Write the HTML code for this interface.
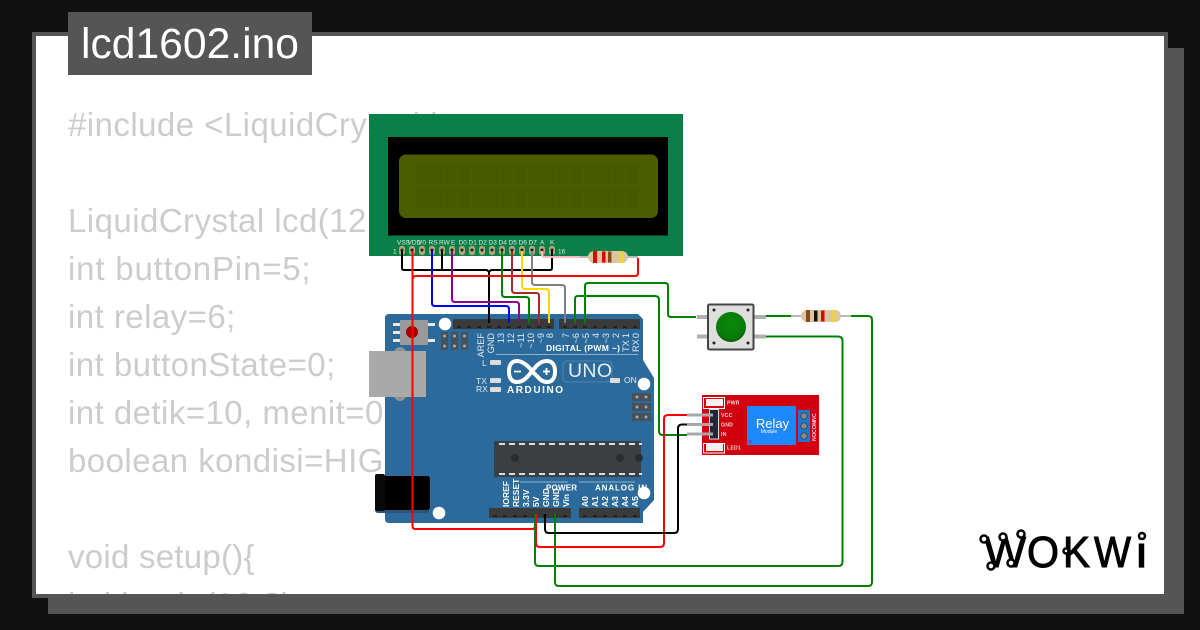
<!DOCTYPE html>
<html><head><meta charset="utf-8"><style>
html,body{margin:0;padding:0;background:#111;width:1200px;height:630px;overflow:hidden}
svg{display:block}
.w{fill:none;stroke-width:2;stroke-linejoin:round}
.c{font:33px "Liberation Sans",sans-serif;fill:#ccc;letter-spacing:.45px}
.b{font:bold 7.5px "Liberation Sans",sans-serif;fill:#fff}
.t{font:8px "Liberation Sans",sans-serif;fill:#dfe8ef}
.r{font:bold 5.2px "Liberation Sans",sans-serif;fill:#f6d6d6;letter-spacing:.2px}
.p{font:6.5px "Liberation Sans",sans-serif;fill:#dfe8df}
</style></head><body>
<svg width="1200" height="630" viewBox="0 0 1200 630" xmlns="http://www.w3.org/2000/svg">
<defs>
<clipPath id="card"><rect x="36" y="36" width="1128" height="558"/></clipPath>
<radialGradient id="bt" cx=".5" cy=".4" r=".6"><stop offset="0" stop-color="#0a8a0a"/><stop offset=".8" stop-color="#087a08"/><stop offset="1" stop-color="#055a05"/></radialGradient>
<pattern id="cells" x="416" y="163" width="14" height="200" patternUnits="userSpaceOnUse"><rect width="12.500" height="21.500" fill="#465500"/><rect y="23.500" width="12.500" height="21.500" fill="#465500"/></pattern>
</defs>
<rect width="1200" height="630" fill="#111"/>
<rect x="48" y="48" width="1136" height="566" fill="#555"/>
<rect x="32" y="32" width="1136" height="566" fill="#555"/>
<rect x="36" y="36" width="1128" height="558" fill="#fff"/>
<g clip-path="url(#card)">
<text class="c" x="68" y="136">#include &lt;LiquidCrystal.h&gt;</text>
<text class="c" x="68" y="232">LiquidCrystal lcd(12, 11, 5, 4, 3, 2);</text>
<text class="c" x="68" y="280" textLength="243">int buttonPin=5;</text>
<text class="c" x="68" y="328">int relay=6;</text>
<text class="c" x="68" y="376">int buttonState=0;</text>
<text class="c" x="68" y="424">int detik=10, menit=0;</text>
<text class="c" x="68" y="472">boolean kondisi=HIGH;</text>
<text class="c" x="68" y="568" textLength="187">void setup(){</text>
<text class="c" x="68" y="616">lcd.begin(16,2);</text>
</g>
<rect x="68" y="12" width="244" height="63" fill="#555"/>
<text x="81" y="58" font-family="Liberation Sans" font-size="43" fill="#fff" textLength="218" lengthAdjust="spacingAndGlyphs">lcd1602.ino</text>

<!-- Arduino -->
<path d="M389 314H638L643 319V360L654 378V500L643 512V523H389Q385 523 385 519V318Q385 314 389 314Z" fill="#2b6a9b"/>
<rect x="375" y="477" width="54" height="36" rx="3" fill="#2a5677"/>
<circle cx="400" cy="353" r="6" fill="#909090"/><circle cx="400" cy="395" r="6" fill="#909090"/>
<rect x="369" y="351" width="57" height="46" fill="#a9a9a9"/>
<rect x="379" y="476" width="51" height="34" rx="3" fill="#000"/>
<rect x="375" y="474" width="10" height="37" rx="2" fill="#0a0a0a"/>
<rect x="393" y="323" width="8" height="3" fill="#e8e8e8"/><rect x="393" y="331" width="8" height="3" fill="#e8e8e8"/><rect x="393" y="339" width="8" height="3" fill="#e8e8e8"/>
<rect x="428" y="323" width="7" height="3" fill="#e8e8e8"/><rect x="428" y="339" width="7" height="3" fill="#e8e8e8"/>
<rect x="400" y="320" width="28" height="25" fill="#9a9a9a"/>
<circle cx="412" cy="332" r="6" fill="#a80000"/>
<circle cx="445" cy="324" r="6.300" fill="#fff"/><circle cx="644" cy="384" r="6.300" fill="#fff"/><circle cx="644" cy="493" r="6.300" fill="#fff"/><circle cx="439" cy="513" r="6.300" fill="#fff"/>
<g fill="#45525c">
<rect x="441" y="332" width="7" height="18"/><rect x="451" y="332" width="7" height="18"/><rect x="461" y="332" width="7" height="18"/>
<rect x="632" y="393" width="19" height="8"/><rect x="632" y="403" width="19" height="8"/><rect x="632" y="413" width="19" height="8"/>
</g>
<g fill="#a8a8a8">
<circle cx="444.500" cy="336" r="1.500"/><circle cx="454.500" cy="336" r="1.500"/><circle cx="464.500" cy="336" r="1.500"/>
<circle cx="444.500" cy="346" r="1.500"/><circle cx="454.500" cy="346" r="1.500"/><circle cx="464.500" cy="346" r="1.500"/>
<circle cx="637" cy="397" r="1.500"/><circle cx="646" cy="397" r="1.500"/><circle cx="637" cy="407" r="1.500"/><circle cx="646" cy="407" r="1.500"/><circle cx="637" cy="417" r="1.500"/><circle cx="646" cy="417" r="1.500"/>
</g>
<g fill="#3a3a3a">
<rect x="453" y="319" width="101" height="10"/><rect x="559" y="319" width="81" height="10"/>
<rect x="489" y="508" width="82" height="10"/><rect x="579" y="508" width="61" height="10"/>
</g>
<path d="M457 327h4M467 327h4M477 327h4M487 327h4M497 327h4M507 327h4M517 327h4M527 327h4M537 327h4M547 327h4M563 327h4M573 327h4M583 327h4M593 327h4M603 327h4M613 327h4M623 327h4M633 327h4M493 516h4M503 516h4M513 516h4M523 516h4M533 516h4M543 516h4M553 516h4M563 516h4M583 516h4M593 516h4M603 516h4M613 516h4M623 516h4M633 516h4" stroke="#222" stroke-width="2"/>
<!-- chip -->
<rect x="494" y="441" width="147" height="36" rx="1" fill="#3c3f41"/>
<path d="M499 444H642M499 474H642" stroke="#ddd" stroke-width="2" stroke-dasharray="6 4"/>
<circle cx="515" cy="458" r="4" fill="#2a2c2e"/><circle cx="620" cy="458" r="4" fill="#2a2c2e"/><circle cx="639" cy="458" r="4" fill="#2a2c2e"/>
<!-- top labels -->
<g font-family="Liberation Sans" fill="#dfe8ef" text-anchor="end" font-size="9.200">
<text transform="translate(484 333) rotate(-90)" text-anchor="end">AREF</text>
<text transform="translate(494 333) rotate(-90)">GND</text>
<text transform="translate(504 333) rotate(-90)">13</text>
<text transform="translate(514 333) rotate(-90)">12</text>
<text transform="translate(524 333) rotate(-90)">~11</text>
<text transform="translate(534 333) rotate(-90)">~10</text>
<text transform="translate(544 333) rotate(-90)">~9</text>
<text transform="translate(553 333) rotate(-90)">8</text>
<text transform="translate(569 333) rotate(-90)">7</text>
<text transform="translate(579 333) rotate(-90)">~6</text>
<text transform="translate(589 333) rotate(-90)">~5</text>
<text transform="translate(599 333) rotate(-90)">4</text>
<text transform="translate(609 333) rotate(-90)">~3</text>
<text transform="translate(619 333) rotate(-90)">2</text>
<text transform="translate(629 333) rotate(-90)">1</text>
<text transform="translate(639 333) rotate(-90)">0</text>
<text transform="translate(629 352) rotate(-90)" text-anchor="start">TX</text>
<text transform="translate(639 352) rotate(-90)" text-anchor="start">RX</text>
</g>
<text class="b" x="546" y="351" style="font-size:8.500px" textLength="74">DIGITAL (PWM ~)</text>
<path d="M496 354.500H638" stroke="#8fb2cc" stroke-width="1"/>
<!-- logo -->
<g fill="none" stroke="#fff" stroke-width="4">
<path d="M532 371C526 363 520 361 517 361C511 361 509 366 509 371.500C509 377 511 382 517 382C524 382 528 376 532 371.500C536 366 540 361 547 361C553 361 555 366 555 371.500C555 377 553 382 547 382C540 382 538 376 532 371.500Z"/>
</g>
<path d="M514 371.500h7M543 371.500h7M546.500 368v7" stroke="#fff" stroke-width="1.800"/>
<text class="b" x="507" y="393" style="font-size:10px" textLength="56">ARDUINO</text>
<rect x="563" y="361" width="49" height="21" rx="4" fill="none" stroke="#5a8db5" stroke-width=".8"/>
<text x="568" y="377" font-family="Liberation Sans" font-size="19.500" fill="#e6eef4" textLength="44">UNO</text>
<g fill="#dcdcdc"><rect x="490" y="360" width="11" height="5" rx="1"/><rect x="490" y="378" width="11" height="5" rx="1"/><rect x="490" y="387" width="11" height="5" rx="1"/><rect x="610" y="378" width="10" height="5" rx="1"/></g>
<g font-family="Liberation Sans" fill="#dfe8ef" font-size="8.500">
<text x="482" y="366">L</text><text x="476" y="384">TX</text><text x="476" y="392">RX</text><text x="624" y="383">ON</text>
</g>
<!-- bottom labels -->
<g class="b" style="font-size:8.500px">
<text transform="translate(509 507) rotate(-90)">IOREF</text>
<text transform="translate(519 507) rotate(-90)">RESET</text>
<text transform="translate(529 507) rotate(-90)">3.3V</text>
<text transform="translate(539 507) rotate(-90)">5V</text>
<text transform="translate(549 507) rotate(-90)">GND</text>
<text transform="translate(559 507) rotate(-90)">GND</text>
<text transform="translate(569 507) rotate(-90)">Vin</text>
<text transform="translate(588 507) rotate(-90)">A0</text>
<text transform="translate(598 507) rotate(-90)">A1</text>
<text transform="translate(608 507) rotate(-90)">A2</text>
<text transform="translate(618 507) rotate(-90)">A3</text>
<text transform="translate(628 507) rotate(-90)">A4</text>
<text transform="translate(638 507) rotate(-90)">A5</text>
</g>
<text class="b" x="546" y="490.500" style="font-size:8px" textLength="31">POWER</text>
<text class="b" x="595" y="490.500" style="font-size:8px" textLength="52">ANALOG IN</text>
<path d="M520 482H568M579 482H635" stroke="#8fb2cc" stroke-width="1"/>

<!-- LCD -->
<rect x="369" y="114" width="314" height="142" fill="#0a7f48"/>
<rect x="388" y="137" width="280" height="98.500" fill="#000"/>
<rect x="399" y="154.500" width="259" height="63.500" rx="7" fill="#4c5d00"/>
<rect x="416" y="163" width="224" height="45" fill="url(#cells)" opacity=".55"/>
<g class="p">
<text x="397" y="244.500">VSS</text><text x="407.500" y="244.500">VDD</text><text x="418" y="244.500">V0</text><text x="428.500" y="244.500">RS</text><text x="439" y="244.500">RW</text><text x="451" y="244.500">E</text><text x="458.500" y="244.500">D0</text><text x="468.500" y="244.500">D1</text><text x="478.500" y="244.500">D2</text><text x="488.500" y="244.500">D3</text><text x="498.500" y="244.500">D4</text><text x="508.500" y="244.500">D5</text><text x="518.500" y="244.500">D6</text><text x="528.500" y="244.500">D7</text><text x="540" y="244.500">A</text><text x="550" y="244.500">K</text>
<text x="393" y="253.500">1</text><text x="558" y="253.500">16</text>
</g>
<g fill="#b7a67c">
<rect x="399" y="246" width="6" height="9" rx="2.500"/><rect x="409" y="246" width="6" height="9" rx="2.500"/><rect x="419" y="246" width="6" height="9" rx="2.500"/><rect x="429" y="246" width="6" height="9" rx="2.500"/><rect x="439" y="246" width="6" height="9" rx="2.500"/><rect x="449" y="246" width="6" height="9" rx="2.500"/><rect x="459" y="246" width="6" height="9" rx="2.500"/><rect x="469" y="246" width="6" height="9" rx="2.500"/><rect x="479" y="246" width="6" height="9" rx="2.500"/><rect x="489" y="246" width="6" height="9" rx="2.500"/><rect x="499" y="246" width="6" height="9" rx="2.500"/><rect x="509" y="246" width="6" height="9" rx="2.500"/><rect x="519" y="246" width="6" height="9" rx="2.500"/><rect x="529" y="246" width="6" height="9" rx="2.500"/><rect x="539" y="246" width="6" height="9" rx="2.500"/><rect x="549" y="246" width="6" height="9" rx="2.500"/>
</g>
<g fill="#1f1f1f">
<circle cx="402" cy="250" r="1.500"/><circle cx="412" cy="250" r="1.500"/><circle cx="422" cy="250" r="1.500"/><circle cx="432" cy="250" r="1.500"/><circle cx="442" cy="250" r="1.500"/><circle cx="452" cy="250" r="1.500"/><circle cx="462" cy="250" r="1.500"/><circle cx="472" cy="250" r="1.500"/><circle cx="482" cy="250" r="1.500"/><circle cx="492" cy="250" r="1.500"/><circle cx="502" cy="250" r="1.500"/><circle cx="512" cy="250" r="1.500"/><circle cx="522" cy="250" r="1.500"/><circle cx="532" cy="250" r="1.500"/><circle cx="542" cy="250" r="1.500"/><circle cx="552" cy="250" r="1.500"/>
</g>

<!-- Button -->
<path d="M697 317H708M697 336.500H708M754 317H766M754 336.500H766" stroke="#b0b0b0" stroke-width="4"/>
<rect x="708" y="304.500" width="45.500" height="45" rx="1.500" fill="#dedede" stroke="#444" stroke-width="2"/>
<circle cx="731" cy="327" r="15" fill="url(#bt)"/>
<g fill="#222"><circle cx="714" cy="310" r="1.500"/><circle cx="748" cy="310" r="1.500"/><circle cx="714" cy="343" r="1.500"/><circle cx="748" cy="343" r="1.500"/></g>

<!-- Relay -->
<rect x="702" y="395" width="117" height="60" fill="#d2000f"/>
<rect x="709.500" y="409.500" width="9" height="29.500" fill="#1e2a38" stroke="#ddd" stroke-width="1"/>
<g fill="#f2f2f2"><rect x="706" y="399" width="17" height="7"/><rect x="706" y="444" width="17" height="7"/></g>
<path d="M703.500 397.500h21v11h-21zM703.500 443.500h21v9.500h-21z" fill="none" stroke="#fff" stroke-width="1"/>
<rect x="747" y="406" width="49" height="39" fill="#1e88ff"/>
<text x="772.500" y="428" text-anchor="middle" font-family="Liberation Sans" font-size="13" fill="#fff">Relay</text>
<text x="769" y="433" text-anchor="middle" font-family="Liberation Sans" font-size="5" fill="#fff">Module</text>
<circle cx="750" cy="442" r="2" fill="#5a5ac8"/>
<rect x="798" y="410" width="12" height="32" fill="#1e78d0"/>
<g fill="#8a8a8a" stroke="#333" stroke-width=".7"><circle cx="804" cy="416" r="3.200"/><circle cx="804" cy="426" r="3.200"/><circle cx="804" cy="436" r="3.200"/></g>
<g class="r">
<text x="727" y="404.500">PWR</text><text x="721" y="417">VCC</text><text x="721" y="426.500">GND</text><text x="721" y="436">IN</text><text x="727" y="449.500">LED1</text>
<text transform="translate(816 441) rotate(-90)">NO</text>
<text transform="translate(816 433) rotate(-90)">COM</text>
<text transform="translate(816 421) rotate(-90)">NC</text>
</g>
<path d="M687 415H713M687 424.500H713M687 434H713" stroke="#a8a8a8" stroke-width="3"/>

<!-- Resistors -->
<path d="M580 257H590M627 257H638" stroke="#b8b8b8" stroke-width="2"/>
<rect x="588" y="251" width="40" height="12" rx="6" fill="#dcc6a2"/>
<rect x="593" y="251" width="4" height="12" fill="#e40000"/><rect x="602" y="251.500" width="3.500" height="11" fill="#e40000"/><rect x="608" y="251.500" width="3.500" height="11" fill="#8a4a1c"/><rect x="619" y="251" width="4" height="12" fill="#ecd050"/>
<path d="M791 316H803M840 316H851" stroke="#b8b8b8" stroke-width="2"/>
<rect x="801" y="310" width="40" height="12" rx="6" fill="#dcc6a2"/>
<rect x="806" y="310" width="4" height="12" fill="#8a4a1c"/><rect x="814" y="310.500" width="3.500" height="11" fill="#111"/><rect x="821" y="310.500" width="3.500" height="11" fill="#e40000"/><rect x="832" y="310" width="4" height="12" fill="#ecd050"/>

<!-- Wires -->
<g class="w">
<path stroke="#000" d="M402 251V268Q402 270 404 270H487L489 272V323"/>
<path stroke="#000" d="M442 251V270M552 251V268Q552 270 550 270H491L489 272"/>
<path stroke="#0000ff" d="M432 251V303Q432 306 435 306H506Q509 306 509 309V323"/>
<path stroke="#8f008f" d="M452 251V299Q452 302 455 302H516Q519 302 519 305V323"/>
<path stroke="#008000" d="M502 251V294Q502 297 505 297H526Q529 297 529 300V323"/>
<path stroke="#a52a2a" d="M512 251V290Q512 293 515 293H536Q539 293 539 296V323"/>
<path stroke="#ffd700" d="M522 251V286Q522 289 525 289H546Q549 289 549 292V323"/>
<path stroke="#808080" d="M532 251V282Q532 285 535 285H562Q565 285 565 288V323"/>
<path stroke="#ffb6c1" d="M542 251V254Q542 257 545 257H580"/>
<path stroke="#f00" d="M638 258V273Q638 276 635 276H416Q413 276 413 279"/>
<path stroke="#f00" d="M412.500 251V526Q412.500 529 415.500 529H532Q535 529 535 526V514"/>
<path stroke="#008000" d="M575 323V299Q575 296 578 296H655Q659 296 659 300V431Q659 435 663 435H687"/>
<path stroke="#008000" d="M585 323V286Q585 283 588 283H665Q668 283 668 286V314Q668 317 671 317H696"/>
<path stroke="#008000" d="M766 316H791M851 316H868Q872 316 872 320V582Q872 586 868 586H559Q555 586 555 582V514"/>
<path stroke="#008000" d="M766 336.500H838Q842.500 336.500 842.500 341V562Q842.500 566 838 566H539Q535 566 535 562V514"/>
<path stroke="#f00" d="M687 415H668Q664 415 664 419V543Q664 547 660 547H540Q536 547 536 543V514"/>
<path stroke="#000" d="M687 424.500H682Q678 424.500 678 428.500V529Q678 533 674 533H549Q545 533 545 529V514"/>
</g>

<!-- Wokwi -->
<g font-family="Liberation Sans" font-size="44" fill="#000" stroke="#000" stroke-width="1">
<text x="984" y="567" textLength="42" lengthAdjust="spacingAndGlyphs">W</text>
<text x="1027" y="567" textLength="32" lengthAdjust="spacingAndGlyphs">O</text>
<text x="1063" y="567" textLength="27" lengthAdjust="spacingAndGlyphs">K</text>
<text x="1094" y="567" textLength="37" lengthAdjust="spacingAndGlyphs">W</text>
<text x="1136" y="567" textLength="11" lengthAdjust="spacingAndGlyphs">i</text>
</g>
<g fill="#fff" stroke="#000" stroke-width="2.500">
<circle cx="984" cy="539" r="3.500"/><circle cx="1003" cy="537" r="3.500"/><circle cx="1021" cy="534" r="3.500"/><circle cx="991" cy="566" r="3.500"/><circle cx="1011" cy="563" r="3.500"/><circle cx="1066" cy="551" r="2.500"/><circle cx="1142" cy="536" r="3"/>
</g>
</svg>
</body></html>
